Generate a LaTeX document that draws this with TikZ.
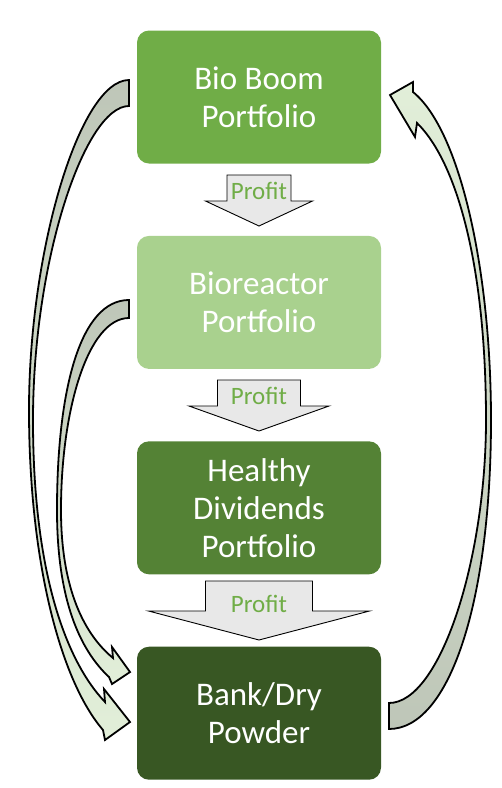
\documentclass[tikz,border=0pt]{standalone}
\usepackage{fontspec}
\setmainfont{Carlito}
\usetikzlibrary{positioning}

\definecolor{boomgreen}{RGB}{112,173,71}
\definecolor{reactorgreen}{RGB}{169,209,142}
\definecolor{dividendgreen}{RGB}{84,130,53}
\definecolor{bankgreen}{RGB}{56,87,35}
\definecolor{profitgrey}{RGB}{232,232,232}
\definecolor{tailgrey}{RGB}{190,198,184}
\definecolor{headpale}{RGB}{226,239,217}

\tikzset{
  portfolio/.style={rounded corners=12pt, minimum width=244pt, minimum height=133pt,
    inner sep=0pt, text=white, align=center, font=\fontsize{33}{38}\selectfont},
  profit/.style={draw=black, line width=0.9pt, fill=profitgrey},
  profitlabel/.style={anchor=base, inner sep=0pt, text=boomgreen,
    font=\fontsize{25}{30}\selectfont},
  curved/.style={draw=black, line width=1.8pt, line join=miter},
}

\begin{document}
\begin{tikzpicture}[x=1pt, y=-1pt]
\useasboundingbox (0,0) rectangle (502,788);

% the four boxes
\node[portfolio, fill=boomgreen] (boom) at (259,97) {Bio Boom\\Portfolio};
\node[portfolio, fill=reactorgreen, below=72pt of boom] (reactor) {Bioreactor\\Portfolio};
\node[portfolio, fill=dividendgreen, below=72pt of reactor] (dividends) {Healthy\\Dividends\\Portfolio};
\node[portfolio, fill=bankgreen, below=72pt of dividends] (bank) {Bank/Dry\\Powder};

% profit arrows: shaft, head, top, shoulder, tip, baseline
\foreach \sw/\hw/\ty/\sy/\py/\by/\n in {32/53.5/175/201/226/199/1,
    41.5/70/380/406/431/404/2, 53.5/110.5/581/611/640/612/3} {
  \draw[profit] ({259-\sw},\ty) -- ({259+\sw},\ty) -- ({259+\sw},\sy)
    -- ({259+\hw},\sy) -- (259,\py) -- ({259-\hw},\sy) -- ({259-\sw},\sy) -- cycle;
  \node[profitlabel] (profit\n) at (259,\by) {Profit};
}

% bio boom back to the bank
\path[curved, top color=tailgrey, bottom color=headpale]
  (129,80) -- (129,106) .. controls (85,106) and (33,260) .. (33,420)
  .. controls (33,570) and (65,660) .. (105,702)
  -- (104,689) -- (130,722) -- (105,740) -- (103,730)
  .. controls (60,680) and (29,560) .. (29,410)
  .. controls (29,250) and (80,80) .. (129,80) -- cycle;

% bioreactor back to the bank
\path[curved, top color=tailgrey, bottom color=headpale]
  (129,300) -- (129,318) .. controls (88,318) and (61,410) .. (61,510)
  .. controls (61,590) and (85,635) .. (113,658)
  -- (112,647) -- (130,672) -- (112,684) -- (109,677)
  .. controls (80,650) and (57,600) .. (57,510)
  .. controls (57,390) and (80,300) .. (129,300) -- cycle;

% bank up to bio boom
\path[curved, top color=headpale, bottom color=tailgrey]
  (389,729) -- (389,703) .. controls (440,703) and (486,560) .. (486,420)
  .. controls (486,260) and (455,160) .. (417,123)
  -- (415,137) -- (390,95) -- (413,82) -- (413,92)
  .. controls (460,130) and (491,270) .. (491,420)
  .. controls (491,600) and (450,729) .. (389,729) -- cycle;
\end{tikzpicture}
\end{document}
